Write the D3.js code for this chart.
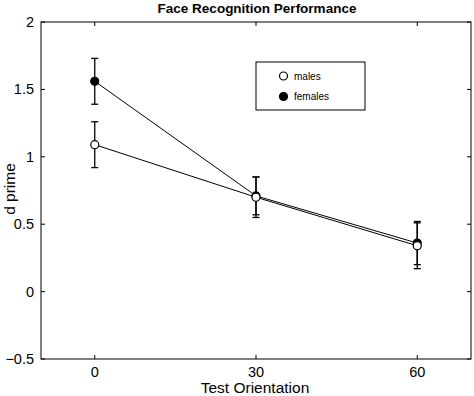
<!DOCTYPE html>
<html>
<head>
<meta charset="utf-8">
<script src="https://cdn.jsdelivr.net/npm/d3@7"></script>
<style>
  body { margin: 0; background: #fff; }
  svg { display: block; font-family: "Liberation Sans", Arial, sans-serif; }
</style>
</head>
<body>
<div id="chart"></div>
<script>
'use strict';

// test orientation (deg)
var orientations = [0, 30, 60];
var xTicks = [0, 30, 60];
var yTicks = [-0.5, 0, 0.5, 1, 1.5, 2];

var malesMean = [1.09, 0.70, 0.34];
var malesErr = [0.17, 0.15, 0.17];
var femalesMean = [1.56, 0.71, 0.36];
var femalesErr = [0.17, 0.14, 0.16];

var width = 474;
var height = 396;
var margin = {top: 22, right: 3, bottom: 37, left: 41};

var svg = d3.select('#chart').append('svg')
    .attr('width', width)
    .attr('height', height);

var x = d3.scaleLinear().domain([-10, 70]).range([margin.left, width - margin.right]);
var y = d3.scaleLinear().domain([-0.5, 2]).range([height - margin.bottom, margin.top]);

// females first so the open male markers sit on top
var series = [
    {name: 'females', mean: femalesMean, err: femalesErr, fill: '#000'},
    {name: 'males', mean: malesMean, err: malesErr, fill: '#fff'}
];
var legendOrder = ['males', 'females'];

// frame
svg.append('rect')
    .attr('x', x.range()[0])
    .attr('y', y.range()[1])
    .attr('width', x.range()[1] - x.range()[0])
    .attr('height', y.range()[0] - y.range()[1])
    .attr('fill', 'none')
    .attr('stroke', '#000')
    .attr('stroke-width', 1);

// inside ticks, all four sides
var tickLen = 4;
var ax = svg.append('g').attr('stroke', '#000').attr('stroke-width', 1);
xTicks.forEach(function(t) {
    ax.append('line').attr('x1', x(t)).attr('x2', x(t)).attr('y1', y(-0.5)).attr('y2', y(-0.5) - tickLen);
    ax.append('line').attr('x1', x(t)).attr('x2', x(t)).attr('y1', y(2)).attr('y2', y(2) + tickLen);
});
yTicks.forEach(function(t) {
    ax.append('line').attr('x1', x(-10)).attr('x2', x(-10) + tickLen).attr('y1', y(t)).attr('y2', y(t));
    ax.append('line').attr('x1', x(70)).attr('x2', x(70) - tickLen).attr('y1', y(t)).attr('y2', y(t));
});

// tick labels
svg.append('g').selectAll('text')
    .data(xTicks)
    .enter().append('text')
    .attr('x', function(d) { return x(d); })
    .attr('y', 377)
    .attr('text-anchor', 'middle')
    .attr('font-size', 14.5)
    .text(function(d) { return d; });

svg.append('g').selectAll('text')
    .data(yTicks)
    .enter().append('text')
    .attr('x', 34)
    .attr('y', function(d) { return y(d) + 5; })
    .attr('text-anchor', 'end')
    .attr('font-size', 14.5)
    .text(function(d) { return String(d).replace('-', '\u2212'); });

// titles
svg.append('text')
    .attr('x', 257)
    .attr('y', 12.5)
    .attr('text-anchor', 'middle')
    .attr('font-size', 13.5)
    .attr('font-weight', 'bold')
    .text('Face Recognition Performance');

svg.append('text')
    .attr('x', 255)
    .attr('y', 393)
    .attr('text-anchor', 'middle')
    .attr('font-size', 15.5)
    .text('Test Orientation');

svg.append('text')
    .attr('transform', 'translate(15,189) rotate(-90)')
    .attr('text-anchor', 'middle')
    .attr('font-size', 15.5)
    .text('d prime');

// data
var line = d3.line()
    .x(function(d, i) { return x(orientations[i]); })
    .y(function(d) { return y(d); });

var capW = 3.5;
series.forEach(function(s) {
    var g = svg.append('g');

    g.append('path')
        .attr('d', line(s.mean))
        .attr('fill', 'none')
        .attr('stroke', '#000')
        .attr('stroke-width', 1);

    s.mean.forEach(function(m, i) {
        var cx = x(orientations[i]);
        var lo = y(m - s.err[i]);
        var hi = y(m + s.err[i]);
        g.append('line').attr('x1', cx).attr('x2', cx).attr('y1', lo).attr('y2', hi)
            .attr('stroke', '#000').attr('stroke-width', 1.3);
        g.append('line').attr('x1', cx - capW).attr('x2', cx + capW).attr('y1', lo).attr('y2', lo)
            .attr('stroke', '#000').attr('stroke-width', 1.3);
        g.append('line').attr('x1', cx - capW).attr('x2', cx + capW).attr('y1', hi).attr('y2', hi)
            .attr('stroke', '#000').attr('stroke-width', 1.3);
    });

    g.selectAll('circle')
        .data(s.mean)
        .enter().append('circle')
        .attr('cx', function(d, i) { return x(orientations[i]); })
        .attr('cy', function(d) { return y(d); })
        .attr('r', 4)
        .attr('fill', s.fill)
        .attr('stroke', '#000')
        .attr('stroke-width', 1.2);
});

// legend
var legend = svg.append('g');
legend.append('rect')
    .attr('x', 256)
    .attr('y', 62)
    .attr('width', 109)
    .attr('height', 48)
    .attr('fill', '#fff')
    .attr('stroke', '#000')
    .attr('stroke-width', 1);

legendOrder.forEach(function(name, i) {
    var s = series.find(function(d) { return d.name === name; });
    var ly = 76 + i * 20.5;
    legend.append('circle')
        .attr('cx', 283.5)
        .attr('cy', ly)
        .attr('r', 4)
        .attr('fill', s.fill)
        .attr('stroke', '#000')
        .attr('stroke-width', 1.2);
    legend.append('text')
        .attr('x', 294)
        .attr('y', ly + 3.5)
        .attr('font-size', 10)
        .text(s.name);
});
</script>
</body>
</html>
